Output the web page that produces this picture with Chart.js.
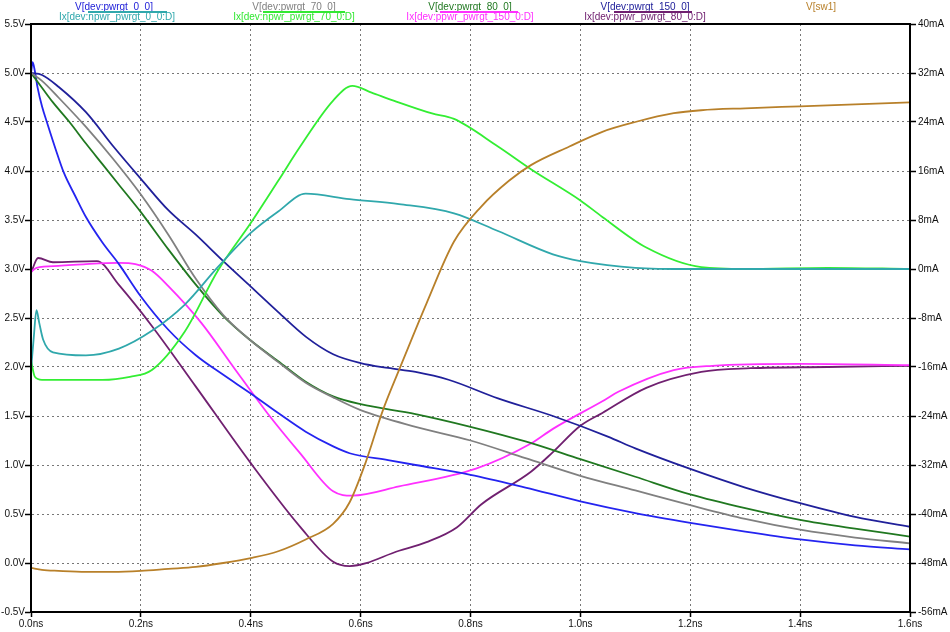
<!DOCTYPE html>
<html lang="en">
<head>
<meta charset="UTF-8">
<title>pwrgt transient</title>
<script src="https://cdn.jsdelivr.net/npm/chart.js"></script>
<style>
  body { margin: 0; background: #fff; }
  .wrap { position: relative; width: 950px; height: 632px; }
  .lg { position: absolute; font: 10px "Liberation Sans", Arial, sans-serif; white-space: nowrap; transform: translateX(-50%); line-height: 10px; }
  .ul { position: absolute; height: 2px; }
</style>
</head>
<body>
<div class="wrap">
  <canvas id="c" width="950" height="632"></canvas>
  <div class="lg" style="left:114px;top:2px;color:#2020d8">V[dev:pwrgt_0_0]</div>
  <div class="lg" style="left:294px;top:2px;color:#808080">V[dev:pwrgt_70_0]</div>
  <div class="lg" style="left:470px;top:2px;color:#207820">V[dev:pwrgt_80_0]</div>
  <div class="lg" style="left:645px;top:2px;color:#20209a">V[dev:pwrgt_150_0]</div>
  <div class="lg" style="left:821px;top:2px;color:#b8802a">V[sw1]</div>
  <div class="lg" style="left:117px;top:12px;color:#30a8ac">Ix[dev:npwr_pwrgt_0_0:D]</div>
  <div class="lg" style="left:294px;top:12px;color:#33e833">Ix[dev:npwr_pwrgt_70_0:D]</div>
  <div class="lg" style="left:470px;top:12px;color:#ff30ff">Ix[dev:ppwr_pwrgt_150_0:D]</div>
  <div class="lg" style="left:645px;top:12px;color:#702070">Ix[dev:ppwr_pwrgt_80_0:D]</div>
  <div class="ul" style="left:88px;top:11px;width:79px;background:#30a8ac"></div>
  <div class="ul" style="left:263px;top:11px;width:82px;background:#33e833"></div>
  <div class="ul" style="left:440px;top:11px;width:78px;background:#ff30ff"></div>
  <div class="ul" style="left:614px;top:11px;width:78px;background:#702070"></div>
</div>
<script>
// time axis (ns)
const xTicks = [0, 0.2, 0.4, 0.6, 0.8, 1.0, 1.2, 1.4, 1.6];

// V[dev:pwrgt_0_0]
const tV0 = [0,0.003,0.007,0.012,0.02,0.03,0.045,0.06,0.08,0.1,0.13,0.16,0.2,0.25,0.3,0.35,0.4,0.45,0.5,0.55,0.58,0.65,0.7,0.8,0.9,1.0,1.1,1.2,1.3,1.4,1.5,1.6];
const vV0 = [5.0,5.11,5.02,4.85,4.66,4.48,4.22,3.98,3.75,3.53,3.27,3.05,2.72,2.38,2.12,1.92,1.73,1.53,1.34,1.19,1.12,1.05,1.0,0.9,0.77,0.63,0.51,0.41,0.32,0.24,0.18,0.14];
// V[dev:pwrgt_70_0]
const tV70 = [0,0.02,0.05,0.1,0.15,0.2,0.25,0.3,0.35,0.4,0.45,0.5,0.55,0.6,0.7,0.8,0.9,1.0,1.1,1.2,1.3,1.4,1.5,1.6];
const vV70 = [5.0,4.92,4.75,4.45,4.12,3.76,3.35,2.9,2.53,2.27,2.05,1.84,1.69,1.56,1.39,1.25,1.07,0.89,0.74,0.59,0.45,0.34,0.26,0.2];
// V[dev:pwrgt_80_0]
const tV80 = [0,0.02,0.04,0.07,0.1,0.13,0.16,0.2,0.25,0.3,0.35,0.4,0.45,0.5,0.55,0.6,0.7,0.8,0.9,1.0,1.1,1.2,1.3,1.4,1.5,1.6];
const vV80 = [5.0,4.85,4.7,4.5,4.28,4.07,3.86,3.58,3.2,2.84,2.52,2.27,2.06,1.85,1.7,1.62,1.52,1.39,1.24,1.06,0.88,0.7,0.56,0.44,0.35,0.27];
// V[dev:pwrgt_150_0]
const tV150 = [0,0.02,0.05,0.1,0.15,0.2,0.25,0.3,0.35,0.4,0.45,0.5,0.55,0.6,0.65,0.7,0.76,0.85,0.95,1.05,1.1,1.2,1.3,1.4,1.5,1.6];
const vV150 = [5.0,4.98,4.86,4.6,4.25,3.92,3.6,3.35,3.08,2.82,2.56,2.31,2.13,2.04,1.99,1.95,1.87,1.68,1.5,1.29,1.17,0.96,0.77,0.61,0.47,0.37];
// V[sw1]
const tSw = [0,0.02,0.05,0.1,0.15,0.2,0.25,0.3,0.35,0.4,0.45,0.5,0.55,0.58,0.61,0.64,0.67,0.72,0.77,0.82,0.87,0.91,0.98,1.04,1.1,1.17,1.22,1.3,1.4,1.5,1.6];
const vSw = [-0.05,-0.07,-0.08,-0.09,-0.09,-0.08,-0.06,-0.04,0.0,0.05,0.12,0.24,0.4,0.62,1.04,1.55,1.97,2.65,3.28,3.64,3.9,4.06,4.25,4.4,4.5,4.59,4.62,4.64,4.66,4.68,4.7];

// Ix[dev:npwr_pwrgt_0_0:D] (mA)
const tIn0 = [0,0.005,0.01,0.015,0.022,0.04,0.1,0.16,0.22,0.28,0.34,0.4,0.45,0.5,0.58,0.67,0.77,0.85,0.95,1.0,1.1,1.2,1.4,1.6];
const iIn0 = [-16.5,-11.2,-6.7,-8.8,-11.5,-13.6,-14.1,-13.0,-10.1,-5.8,0.3,5.9,9.4,12.3,11.4,10.6,9.1,6.2,2.4,1.3,0.2,0,0,0];
// Ix[dev:npwr_pwrgt_70_0:D] (mA)
const tIn70 = [0,0.007,0.02,0.13,0.18,0.22,0.28,0.34,0.4,0.45,0.49,0.55,0.585,0.62,0.66,0.73,0.77,0.85,0.91,1.0,1.04,1.12,1.22,1.3,1.45,1.6];
const iIn70 = [-14.9,-17.6,-18.1,-18.1,-17.6,-16.5,-10.2,-0.3,7.5,14.4,20,27.5,29.9,28.8,27.5,25.4,24.5,20,16.3,11.2,8.5,3.5,0.3,0,0.2,0];
// Ix[dev:ppwr_pwrgt_150_0:D] (mA)
const tIp150 = [0,0.01,0.05,0.1,0.16,0.19,0.22,0.25,0.31,0.37,0.43,0.49,0.55,0.585,0.67,0.81,0.91,0.95,1.04,1.07,1.17,1.24,1.4,1.6];
const iIp150 = [-0.5,0.2,0.5,0.8,1.0,0.8,-0.3,-2.8,-8.8,-16.2,-23.5,-30.1,-36.3,-37,-35.5,-32.6,-28.5,-26.1,-21.6,-20,-16.5,-15.8,-15.5,-15.7];
// Ix[dev:ppwr_pwrgt_80_0:D] (mA)
const tIp80 = [0,0.013,0.04,0.12,0.16,0.22,0.3,0.4,0.49,0.55,0.58,0.67,0.72,0.775,0.82,0.91,0.95,1.0,1.04,1.12,1.22,1.31,1.45,1.6];
const iIp80 = [-0.6,1.8,1.1,1.3,-2.6,-9.3,-19.2,-31.7,-42.1,-47.8,-48.5,-46,-44.6,-42.2,-38.4,-33.1,-29.9,-25.6,-23.5,-19.4,-16.8,-16.2,-16,-15.8];

const pts = (t, v) => t.map((x, i) => ({ x: x, y: v[i] }));
const line = (data, color, axis) => ({
  data: data, borderColor: color, borderWidth: 1.8, yAxisID: axis,
  pointRadius: 0, fill: false, cubicInterpolationMode: 'monotone'
});

// black box round the plot
const frame = {
  id: 'frame',
  afterDraw(chart) {
    const a = chart.chartArea, ctx = chart.ctx;
    ctx.save();
    ctx.strokeStyle = '#000';
    ctx.lineWidth = 2;
    ctx.strokeRect(a.left, a.top, a.right - a.left, a.bottom - a.top);
    ctx.restore();
  }
};

Chart.defaults.font.family = '"Liberation Sans", Arial, sans-serif';
Chart.defaults.font.size = 10;
Chart.defaults.color = '#111';

new Chart(document.getElementById('c'), {
  type: 'line',
  data: {
    datasets: [
      line(pts(tSw, vSw), '#b8802a', 'y'),
      line(pts(tIn0, iIn0), '#30a8ac', 'y1'),
      line(pts(tIn70, iIn70), '#33ee33', 'y1'),
      line(pts(tV70, vV70), '#808080', 'y'),
      line(pts(tV80, vV80), '#207820', 'y'),
      line(pts(tV150, vV150), '#20209a', 'y'),
      line(pts(tV0, vV0), '#2424f0', 'y'),
      line(pts(tIp150, iIp150), '#ff30ff', 'y1'),
      line(pts(tIp80, iIp80), '#702070', 'y1')
    ]
  },
  options: {
    responsive: false,
    animation: false,
    devicePixelRatio: 1,
    layout: { padding: { top: 24, left: 0, right: 0, bottom: 0 } },
    plugins: { legend: { display: false }, tooltip: { enabled: false } },
    scales: {
      x: {
        type: 'linear', min: 0, max: 1.6,
        afterBuildTicks: s => { s.ticks = xTicks.map(v => ({ value: v })); },
        afterFit: s => { s.height = 20; },
        ticks: { callback: v => v.toFixed(1) + 'ns', padding: 1, maxRotation: 0 },
        grid: { color: '#777', tickColor: '#000', tickLength: 5, tickBorderDash: [], tickWidth: 1.5 },
        border: { color: '#000', width: 2, dash: [2, 3] }
      },
      y: {
        position: 'left', min: -0.5, max: 5.5,
        ticks: { stepSize: 0.5, callback: v => v.toFixed(1) + 'V', padding: 0 },
        afterFit: s => { s.width = 31; },
        grid: { color: '#777', tickColor: '#000', tickLength: 6, tickBorderDash: [], tickWidth: 1.5 },
        border: { color: '#000', width: 2, dash: [2, 3] }
      },
      y1: {
        position: 'right', min: -56, max: 40,
        ticks: { stepSize: 8, callback: v => v + 'mA', padding: 2 },
        afterFit: s => { s.width = 40; },
        grid: { drawOnChartArea: false, tickColor: '#000', tickLength: 6, tickBorderDash: [], tickWidth: 1.5 },
        border: { color: '#000', width: 2 }
      }
    }
  },
  plugins: [frame]
});
</script>
</body>
</html>
